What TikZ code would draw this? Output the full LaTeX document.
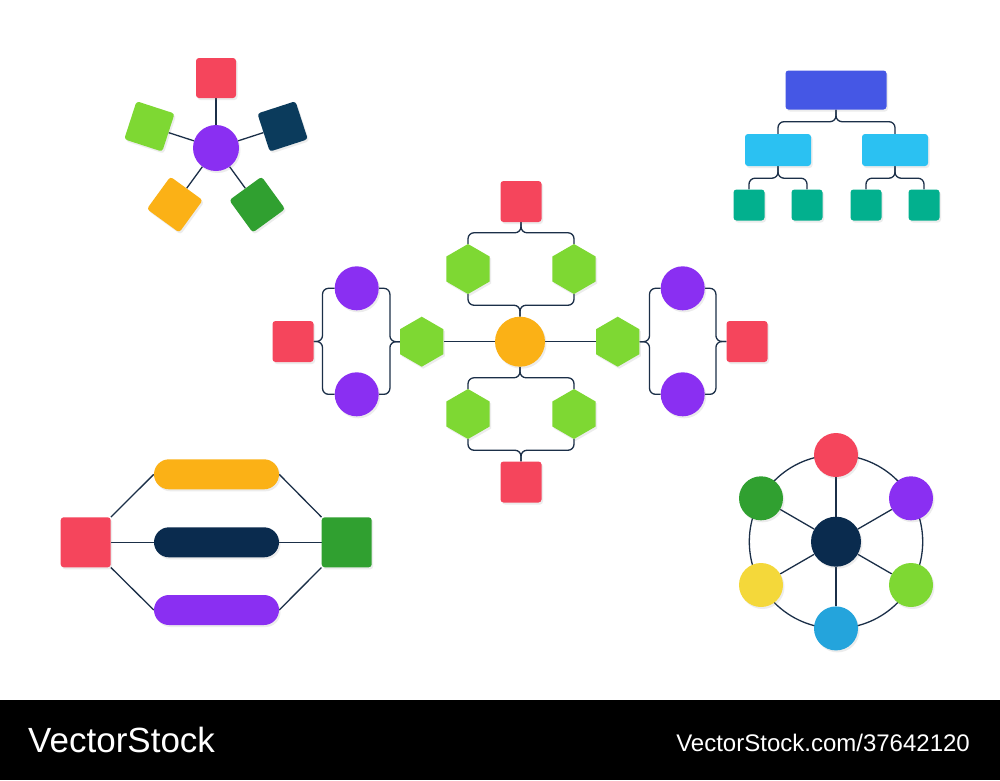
\documentclass[tikz,border=0pt]{standalone}
\usepackage{fontspec}
\newfontfamily\barfont{Liberation Sans}
\usetikzlibrary{shapes.geometric,shadows}

\definecolor{cred}{HTML}{F5455C}
\definecolor{cpurple}{HTML}{8A2FF2}
\definecolor{clime}{HTML}{7ED833}
\definecolor{cnavy}{HTML}{0A2B4E}
\definecolor{cpetrol}{HTML}{0B3B5C}
\definecolor{camber}{HTML}{FBB116}
\definecolor{cgreen}{HTML}{30A030}
\definecolor{cyellow}{HTML}{F4D83A}
\definecolor{cblue}{HTML}{24A4DC}
\definecolor{croyal}{HTML}{4557E5}
\definecolor{csky}{HTML}{2BC1F2}
\definecolor{cteal}{HTML}{02B08E}
\definecolor{cline}{HTML}{1B2F48}

\pgfdeclarelayer{back}
\pgfsetlayers{back,main}

\tikzstyle{shd}=[drop shadow={shadow xshift=1.5pt, shadow yshift=-2pt, opacity=0.15}]
\tikzstyle{sq}=[rectangle, rounded corners=3pt, minimum size=40pt, inner sep=0pt, shd]
\tikzstyle{dot}=[circle, minimum size=44pt, inner sep=0pt, shd]
\tikzstyle{hexa}=[regular polygon, regular polygon sides=6, shape border rotate=30, minimum size=50pt, inner sep=0pt, shd]
\tikzstyle{pill}=[rectangle, rounded corners=15pt, minimum width=125pt, minimum height=30pt, inner sep=0pt, shd]
\tikzstyle{link}=[draw=cline, line width=1.3pt]

\begin{document}
\begin{tikzpicture}[x=1pt, y=-1pt]
\useasboundingbox (0,0) rectangle (1000,780);

\node[dot, fill=cpurple, minimum size=46pt](s0) at (216,148) {};
\node[sq, fill=cred](s1) at (216,78) {};
\node[sq, fill=cpetrol, rotate=18](s2) at (282.6,126.4) {};
\node[sq, fill=clime, rotate=-18](s3) at (149.4,126.4) {};
\node[sq, fill=camber, rotate=54](s4) at (174.8,204.6) {};
\node[sq, fill=cgreen, rotate=36](s5) at (257.2,204.6) {};

\node[sq, fill=croyal, minimum width=101pt, minimum height=39pt](t0) at (836,90) {};
\node[sq, fill=csky, minimum width=66pt, minimum height=32pt](t1) at (778,150) {};
\node[sq, fill=csky, minimum width=66pt, minimum height=32pt](t2) at (895,150) {};
\node[sq, fill=cteal, minimum size=31pt](t11) at (749,205) {};
\node[sq, fill=cteal, minimum size=31pt](t12) at (807,205) {};
\node[sq, fill=cteal, minimum size=31pt](t21) at (866,205) {};
\node[sq, fill=cteal, minimum size=31pt](t22) at (924,205) {};

\node[dot, fill=camber, minimum size=50pt](m0) at (520,341.7) {};
\node[sq, fill=cred, minimum size=41pt](mt) at (521,201.5) {};
\node[sq, fill=cred, minimum size=41pt](mb) at (521,482) {};
\node[sq, fill=cred, minimum size=41pt](ml) at (293,341.5) {};
\node[sq, fill=cred, minimum size=41pt](mr) at (747,341.5) {};
\node[hexa, fill=clime](h1) at (468,269) {};
\node[hexa, fill=clime](h2) at (574,269) {};
\node[hexa, fill=clime](h3) at (468,414) {};
\node[hexa, fill=clime](h4) at (574,414) {};
\node[hexa, fill=clime](hl) at (421.7,341.7) {};
\node[hexa, fill=clime](hr) at (617.7,341.7) {};
\node[dot, fill=cpurple](p1) at (356.7,288.3) {};
\node[dot, fill=cpurple](p2) at (356.7,394.3) {};
\node[dot, fill=cpurple](p3) at (682.7,288.3) {};
\node[dot, fill=cpurple](p4) at (682.7,394.3) {};

\node[sq, fill=cred, minimum size=50pt](b1) at (85.7,542.3) {};
\node[sq, fill=cgreen, minimum size=50pt](b2) at (346.7,542.3) {};
\node[pill, fill=camber](l1) at (216.5,474.3) {};
\node[pill, fill=cnavy](l2) at (216.5,542.3) {};
\node[pill, fill=cpurple](l3) at (216.5,610) {};

\node[dot, fill=cnavy, minimum size=50pt](w0) at (836,541.7) {};
\node[dot, fill=cred](w1) at (836,455) {};
\node[dot, fill=cpurple](w2) at (911,498.3) {};
\node[dot, fill=clime](w3) at (911,585) {};
\node[dot, fill=cblue](w4) at (836,628.4) {};
\node[dot, fill=cyellow](w5) at (761,585) {};
\node[dot, fill=cgreen](w6) at (761,498.3) {};

\fill[black] (0,700) rectangle (1000,780);
\node[text=white, anchor=base west, inner sep=0pt, font=\barfont\fontsize{35}{40}\selectfont](brand) at (28,752) {VectorStock};
\node[text=white, anchor=base east, inner sep=0pt, font=\barfont\fontsize{24}{28}\selectfont](site) at (970,751) {VectorStock.com/37642120};

\begin{pgfonlayer}{back}
\fill[white] (0,0) rectangle (1000,700);
\begin{scope}[every path/.style={link}]
       \draw (s0) -- (s1);
       \draw (s0) -- (s2);
       \draw (s0) -- (s3);
       \draw (s0) -- (s4);
       \draw (s0) -- (s5);
\end{scope}
\begin{scope}[every path/.style={link, rounded corners=6pt}]
       \draw (t0.south) -- ++(0,12) -| (t1.north);
       \draw (t0.south) -- ++(0,12) -| (t2.north);
       \draw (t1.south) -- ++(0,12) -| (t11.north);
       \draw (t1.south) -- ++(0,12) -| (t12.north);
       \draw (t2.south) -- ++(0,12) -| (t21.north);
       \draw (t2.south) -- ++(0,12) -| (t22.north);

       \draw (h1.north) -- ++(0,-11) -| (mt.south);
       \draw (h2.north) -- ++(0,-11) -| (mt.south);
       \draw (h1.south) -- ++(0,11) -| (m0.north);
       \draw (h2.south) -- ++(0,11) -| (m0.north);
       \draw (h3.north) -- ++(0,-11) -| (m0.south);
       \draw (h4.north) -- ++(0,-11) -| (m0.south);
       \draw (h3.south) -- ++(0,11) -| (mb.north);
       \draw (h4.south) -- ++(0,11) -| (mb.north);
       \draw (p1.west) -- ++(-12,0) |- (ml.east);
       \draw (p2.west) -- ++(-12,0) |- (ml.east);
       \draw (p1.east) -- ++(11,0) |- (hl.west);
       \draw (p2.east) -- ++(11,0) |- (hl.west);
       \draw (p3.west) -- ++(-11,0) |- (hr.east);
       \draw (p4.west) -- ++(-11,0) |- (hr.east);
       \draw (p3.east) -- ++(11,0) |- (mr.west);
       \draw (p4.east) -- ++(11,0) |- (mr.west);
\end{scope}
\begin{scope}[every path/.style={link}]
       \draw (hl) -- (m0);
       \draw (m0) -- (hr);

       \draw (b1.north east) -- (l1.west);
       \draw (b1.east) -- (l2.west);
       \draw (b1.south east) -- (l3.west);
       \draw (l1.east) -- (b2.north west);
       \draw (l2.east) -- (b2.west);
       \draw (l3.east) -- (b2.south west);

       \draw (w0) circle [radius=86.7];
       \draw (w0) -- (w1);
       \draw (w0) -- (w2);
       \draw (w0) -- (w3);
       \draw (w0) -- (w4);
       \draw (w0) -- (w5);
       \draw (w0) -- (w6);
\end{scope}
\end{pgfonlayer}
\end{tikzpicture}
\end{document}
